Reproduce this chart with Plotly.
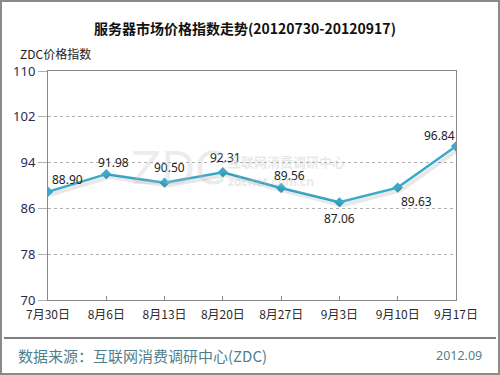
import plotly.graph_objects as go

categories = ["7月30日", "8月6日", "8月13日", "8月20日", "8月27日", "9月3日", "9月10日", "9月17日"]
values = [88.90, 91.98, 90.50, 92.31, 89.56, 87.06, 89.63, 96.84]
y_ticks = [70, 78, 86, 94, 102, 110]

W, H = 500, 375
L, R, T, B = 48, 44, 71, 75
pw, ph = W - L - R, H - T - B

def px(xp):
    return (xp - L) / pw

def py(yp):
    return 1 - (yp - T) / ph

xs = list(range(len(categories)))
line_color = "#3ba9c9"
num_font = "Noto Sans, DejaVu Sans"
cjk = "Noto Sans CJK SC, DejaVu Sans"

fig = go.Figure()
# soft shadow (drawn on a slightly shifted overlay axis)
fig.add_trace(go.Scatter(x=xs, y=values, mode="lines", line=dict(color="rgba(0,0,0,0.09)", width=4),
                         hoverinfo="skip", showlegend=False, xaxis="x2", yaxis="y2"))
fig.add_trace(go.Scatter(x=xs, y=values, mode="lines+markers",
                         line=dict(color=line_color, width=2.5),
                         marker=dict(symbol="diamond", size=8, color=line_color),
                         showlegend=False))

# label offsets (pixels) per point
offs = [(19, 12), (7, 12), (5, 15), (3, 15), (8, 13), (0, -16), (19, -14), (-17, 11)]
for x, v, (dx, dy) in zip(xs, values, offs):
    fig.add_annotation(x=x, y=v, text=f"{v:.2f}", showarrow=False, xshift=dx, yshift=dy,
                       xanchor="center", yanchor="middle",
                       font=dict(family=num_font, size=12, color="#222222"))

def note(xp, yp, text, size, color, family, xanchor="center", bold=False):
    fig.add_annotation(xref="paper", yref="paper", x=px(xp), y=py(yp), xanchor=xanchor, yanchor="middle",
                       text=f"<b>{text}</b>" if bold else text, showarrow=False,
                       font=dict(family=family, size=size, color=color))

# watermark
note(178, 168, "ZDC", 44, "rgba(190,190,190,0.28)", "DejaVu Sans")
note(226, 161, "互联网消费调研中心", 13, "rgba(190,190,190,0.35)", cjk, xanchor="left", bold=True)
note(226, 181, "zdcnet.com.cn", 12, "rgba(190,190,190,0.35)", num_font, xanchor="left", bold=True)

note(245, 28, "服务器市场价格指数走势(20120730-20120917)", 14, "#111111", cjk, bold=True)
note(18, 53, "ZDC价格指数", 12, "#222222", cjk, xanchor="left")
note(16, 355, "数据来源：互联网消费调研中心(ZDC)", 15, "#4f7f8f", cjk, xanchor="left")
note(484, 355, "2012.09", 12.5, "#4f7f8f", num_font, xanchor="right")

# footer line and outer border
fig.add_shape(type="line", xref="paper", yref="paper", x0=px(4), x1=px(496), y0=py(338), y1=py(338),
              line=dict(color="#000000", width=1))
fig.add_shape(type="rect", xref="paper", yref="paper", x0=px(1), x1=px(499), y0=py(1), y1=py(374),
              line=dict(color="#8a8a8a", width=2))

fig.update_layout(
    width=W, height=H,
    margin=dict(l=L, r=R, t=T, b=B, autoexpand=False),
    paper_bgcolor="white", plot_bgcolor="white",
    xaxis=dict(range=[0, 7], tickvals=xs, ticktext=categories, ticks="inside", ticklen=4,
               tickcolor="#888888", showgrid=False, zeroline=False, automargin=False,
               showline=True, linecolor="#888888", linewidth=1, mirror=True, ticklabelstandoff=4,
               tickfont=dict(family=cjk, size=12, color="#2a2a2a")),
    xaxis2=dict(range=[-0.05, 6.95], overlaying="x", visible=False),
    yaxis=dict(range=[70, 110], tickvals=y_ticks, ticks="outside", ticklen=9, tickcolor="#b0b0b0",
               showgrid=True, gridcolor="#b0b0b0", griddash="dot", gridwidth=1, zeroline=False,
               showline=True, linecolor="#888888", linewidth=1, mirror=True, automargin=False,
               tickfont=dict(family=num_font, size=13, color="#2a2a5a")),
    yaxis2=dict(range=[70.5, 110.5], overlaying="y", visible=False),
)

fig.write_html("out.html", config={"displayModeBar": False},
               post_script="document.body.style.margin='0px';")
